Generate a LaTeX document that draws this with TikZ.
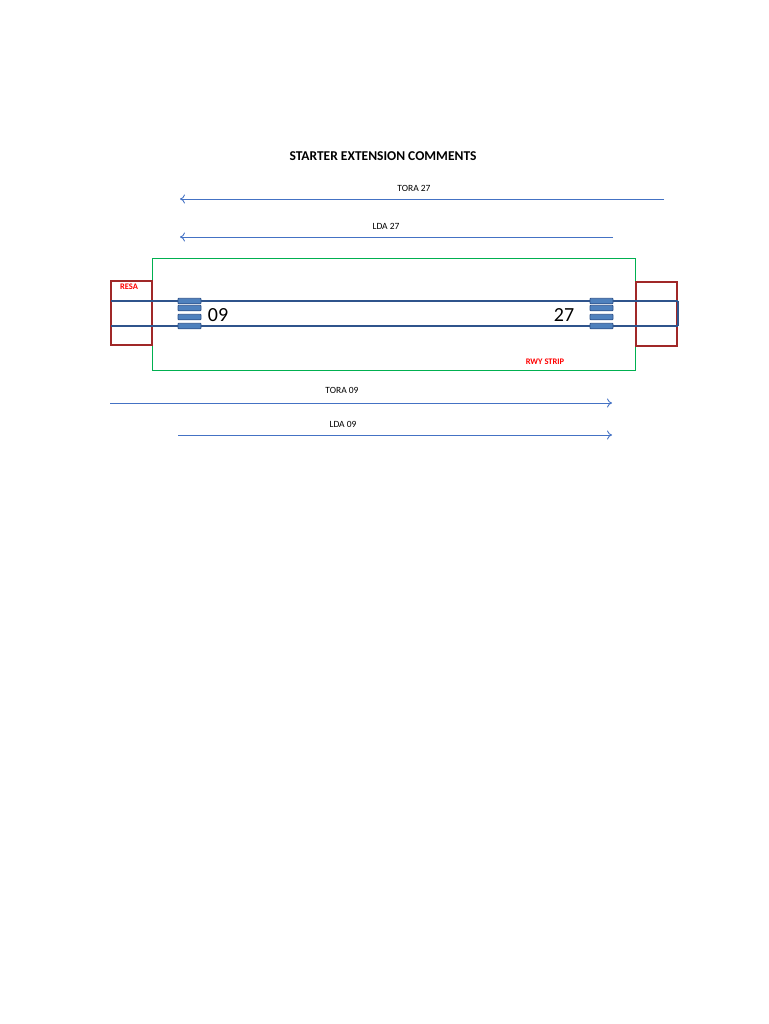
\documentclass[tikz,border=0pt]{standalone}
\usepackage{fontspec}
\setmainfont{Carlito}
\usetikzlibrary{arrows.meta}
\definecolor{rwblue}{RGB}{47,84,140}
\definecolor{arblue}{RGB}{68,114,196}
\definecolor{thfill}{RGB}{79,129,189}
\definecolor{resared}{RGB}{160,40,40}
\definecolor{stripgreen}{RGB}{0,176,80}
\tikzset{
 dist/.style={arblue,line width=0.9pt,-{To[length=5pt,width=9pt]}},
 lbl/.style={font=\fontsize{9.5}{10}\selectfont},
 redlbl/.style={font=\fontsize{8.5}{9}\selectfont\bfseries,text=red},
 bar/.style={draw=rwblue,fill=thfill,rounded corners=0.8pt,line width=0.8pt,minimum width=23pt,minimum height=5.5pt,inner sep=0pt},
 rwline/.style={rwblue,line width=1.6pt},
 num/.style={font=\fontsize{20}{22}\selectfont}
}
\begin{document}
\begin{tikzpicture}[x=1pt,y=-1pt]
\useasboundingbox (0,0) rectangle (768,1024);
\node[font=\fontsize{13.5}{15}\selectfont\bfseries] (title) at (383,156) {STARTER EXTENSION COMMENTS};
% distance arrows
\coordinate (t27a) at (664,199); \coordinate (t27b) at (180,199);
\coordinate (l27a) at (613,237); \coordinate (l27b) at (180,237);
\coordinate (t09a) at (110,403); \coordinate (t09b) at (612,403);
\coordinate (l09a) at (178,435); \coordinate (l09b) at (612,435);
\draw[dist] (t27a) -- (t27b);
\draw[dist] (l27a) -- (l27b);
\draw[dist] (t09a) -- (t09b);
\draw[dist] (l09a) -- (l09b);
\node[lbl] (lt27) at (414,188) {TORA 27};
\node[lbl] (ll27) at (386,226) {LDA 27};
\node[lbl] (lt09) at (342,390) {TORA 09};
\node[lbl] (ll09) at (343,424) {LDA 09};
% strip
\draw[stripgreen,line width=0.8pt] (152,258) rectangle (635,370);
% RESA
\draw[resared,line width=1.2pt] (111,281) rectangle (152,345);
\draw[resared,line width=1.2pt] (636,282) rectangle (677,346);
% runway
\draw[rwline] (111,301) -- (678,301);
\draw[rwline] (111,326) -- (678,326);
\draw[rwline] (678,301) -- (678,326);
% thresholds
\foreach \y/\n in {301/a,308/b,317/c,326/d}{
 \node[bar] (lb\n) at (189.5,\y) {};
 \node[bar] (rb\n) at (601.5,\y) {};
}
\node[num] (n09) at (218,315) {09};
\node[num] (n27) at (564,315) {27};
\node[redlbl] (resa) at (129,287) {RESA};
\node[redlbl] (strip) at (545,362) {RWY STRIP};
\end{tikzpicture}
\end{document}
